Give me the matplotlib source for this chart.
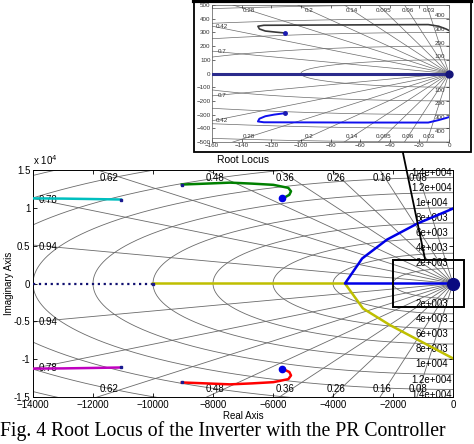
import numpy as np
import matplotlib.pyplot as plt
from matplotlib.patches import Rectangle
from matplotlib.lines import Line2D

plt.rcParams['font.family'] = ['Liberation Sans', 'DejaVu Sans']

# ---- main root locus branches ----
blue_x = [0, -3600, -3030, -2200, -1200, 0]
blue_y = [0, 0, 3300, 5800, 7900, 9900]
yellow_x = [-10000, -3600, -3000, -2100, -1000, 0]
yellow_y = [0, 0, -3300, -5500, -7800, -9900]
dotted_x = [-14000, -10000]
dotted_y = [0, 0]
cyan_x = [-14000, -13000, -12000, -11070]
cyan_y = [11250, 11220, 11160, 11100]
magenta_x = [-14000, -13000, -12000, -11070]
magenta_y = [-11250, -11220, -11160, -11100]
green_x = [-9040, -8430, -7430, -6700, -5990, -5490, -5400, -5455, -5600, -5710]
green_y = [13080, 13170, 13330, 13200, 13040, 12640, 12190, 11720, 11400, 11270]
red_x = [-9040, -8430, -7430, -6700, -5990, -5490, -5400, -5455, -5600, -5710]
red_y = [-13080, -13170, -13330, -13200, -13040, -12640, -12150, -11700, -11420, -11330]
pole_x = [-10000, -11070, -11070, -9040, -9040]
pole_y = [0, 11100, -11100, 13080, -13080]
zero_x = [-5710, -5710]
zero_y = [11270, -11330]

# sgrid of main plot
zeta_main = [0.08, 0.16, 0.26, 0.36, 0.48, 0.62, 0.78, 0.94]
wn_main = [2000, 4000, 6000, 8000, 10000, 12000, 14000, 16000, 18000, 20000, 22000]
wn_labels = ['2e+003', '4e+003', '6e+003', '8e+003', '1e+004', '1.2e+004', '1.4e+004']

# ---- zoomed view near the origin ----
upper_x = [-111, -117, -124, -128, -129, -125, -60, -14, -7, -2, 0]
upper_y = [296, 302, 310, 325, 345, 352, 355, 357, 345, 325, 314]
lower_x = [-111, -118, -124, -128, -129, -125, -60, -14, -7, -2, 0]
lower_y = [-290, -300, -312, -330, -350, -356, -358, -358, -340, -325, -318]
zeta_ins = [0.03, 0.06, 0.095, 0.14, 0.2, 0.28, 0.42, 0.7]
wn_ins = [100, 200, 300, 400, 500]

fig = plt.figure(figsize=(4.74, 4.44), dpi=100)
ax = fig.add_axes([33/474, 1-397/444, 420/474, 227/444])

gcol = '#6a6a6a'
t = np.linspace(np.pi/2, 3*np.pi/2, 400)
for w in wn_main:
    ax.plot(w*np.cos(t), w*np.sin(t), color=gcol, lw=0.6, zorder=1)
R = 60000
for z in zeta_main:
    s = np.sqrt(1 - z**2)
    ax.plot([0, -R*z], [0, R*s], color=gcol, lw=0.6, zorder=1)
    ax.plot([0, -R*z], [0, -R*s], color=gcol, lw=0.6, zorder=1)
    if z < 0.7:
        xl = -14500*z/s
        ax.text(xl, 13900, '%g' % z, fontsize=7, ha='center', va='center', zorder=2)
        ax.text(xl, -13950, '%g' % z, fontsize=7, ha='center', va='center', zorder=2)
    else:
        yl = 14000*s/z
        ax.text(-13500, yl - 200, '%g' % z, fontsize=7, ha='center', va='center', zorder=2)
        ax.text(-13500, -yl + 50, '%g' % z, fontsize=7, ha='center', va='center', zorder=2)
for w, lab in zip(wn_main, wn_labels):
    ax.text(-700, w + 650, lab, fontsize=7, ha='center', va='center', zorder=2)
    ax.text(-700, -w - 700, lab, fontsize=7, ha='center', va='center', zorder=2)

ax.plot(dotted_x, dotted_y, color='#101070', lw=1.6, ls=':', zorder=3)
ax.plot(yellow_x, yellow_y, color='#bfbf00', lw=1.8, zorder=3)
ax.plot(blue_x, blue_y, color='#0000e6', lw=1.8, zorder=4)
ax.plot(cyan_x, cyan_y, color='#00bfbf', lw=1.8, zorder=3)
ax.plot(magenta_x, magenta_y, color='#bf00bf', lw=1.8, zorder=3)
ax.plot(green_x, green_y, color='#008000', lw=1.8, zorder=3)
ax.plot(red_x, red_y, color='#ff0000', lw=1.8, zorder=3)
ax.plot(pole_x, pole_y, 's', color='#1a1a90', ms=2, zorder=5)
ax.plot(zero_x, zero_y, 'o', color='#0000e6', ms=4.5, zorder=5)
ax.plot([0], [0], 'o', color='#0a0a80', ms=8.5, zorder=6, clip_on=False)

ax.set_xlim(-14000, 0)
ax.set_ylim(-15000, 15000)
ax.set_xticks(np.arange(-14000, 1, 2000))
ax.set_yticks(np.arange(-15000, 15001, 5000))
ax.set_yticklabels(['-1.5', '-1', '-0.5', '0', '0.5', '1', '1.5'])
ax.tick_params(direction='in', length=3, width=0.6, labelsize=7, top=True, right=True, pad=2)
for sp in ax.spines.values():
    sp.set_linewidth(0.7)
ax.text(0.0, 1.012, r'x 10$^{4}$', transform=ax.transAxes, fontsize=7, ha='left', va='bottom')
fig.text(243/474, 1-160/444, 'Root Locus', fontsize=7.5, ha='center', va='center')
ax.set_xlabel('Real Axis', fontsize=7, labelpad=1)
ax.set_ylabel('Imaginary Axis', fontsize=7, labelpad=0)

# ---- inset ----
ins = fig.add_axes([212/474, 1-142/444, 237/474, 137/444])
tt = np.linspace(np.pi/2, 3*np.pi/2, 400)
for w in wn_ins:
    ins.plot(w*np.cos(tt), w*np.sin(tt), color=gcol, lw=0.5, zorder=1)
for z in zeta_ins:
    s = np.sqrt(1 - z**2)
    ins.plot([0, -3000*z], [0, 3000*s], color=gcol, lw=0.5, zorder=1)
    ins.plot([0, -3000*z], [0, -3000*s], color=gcol, lw=0.5, zorder=1)
    if z < 0.4:
        xl = -463*z/s
        ins.text(xl, 463, '%g' % z, fontsize=4.5, ha='center', va='center', color='#333333')
        ins.text(xl, -463, '%g' % z, fontsize=4.5, ha='center', va='center', color='#333333')
    else:
        yl = 160*s/z
        ins.text(-153, yl, '%g' % z, fontsize=4.5, ha='center', va='center', color='#333333')
        ins.text(-153, -yl, '%g' % z, fontsize=4.5, ha='center', va='center', color='#333333')
for w in wn_ins[:4]:
    ins.text(-6, w + 22, '%d' % w, fontsize=4.5, ha='center', va='center', color='#333333')
    ins.text(-6, -w - 22, '%d' % w, fontsize=4.5, ha='center', va='center', color='#333333')
ins.plot([-160, 0], [0, 0], color='#2b2b8c', lw=2.2, zorder=3)
ins.plot(upper_x, upper_y, color='#383838', lw=1.2, zorder=3)
ins.plot(lower_x, lower_y, color='#1010ee', lw=1.4, zorder=3)
ins.plot([-111, -111], [296, -290], 'o', color='#1a1ab0', ms=2.5, zorder=4)
ins.plot([0], [0], 'o', color='#15157a', ms=5, zorder=5, clip_on=False)
ins.set_xlim(-160, 0)
ins.set_ylim(-500, 500)
ins.set_xticks(np.arange(-160, 1, 20))
ins.set_yticks(np.arange(-500, 501, 100))
ins.tick_params(direction='in', length=2, width=0.4, labelsize=4.5, labelcolor='#333333',
                top=True, right=True, pad=1)
for sp in ins.spines.values():
    sp.set_linewidth(0.5)
    sp.set_color('#555555')

# frame around the zoomed view and the pointer line
fig.patches.append(Rectangle((194/474, 1-152/444), 277/474, 151/444, transform=fig.transFigure,
                             fill=False, ec='black', lw=1.3))
fig.lines.append(Line2D([194/474, 471/474], [1-1/444, 1-1/444], transform=fig.transFigure,
                        color='black', lw=3))
fig.patches.append(Rectangle((393/474, 1-307/444), 71/474, 47/444, transform=fig.transFigure,
                             fill=False, ec='black', lw=1.4, zorder=10))
fig.lines.append(Line2D([403/474, 425/474], [1-153/444, 1-259/444], transform=fig.transFigure,
                        color='black', lw=1.3))

fig.text(0.0, 1-421/444, 'Fig. 4 Root Locus of the Inverter with the PR Controller',
         fontsize=14.2, family=['Liberation Serif', 'DejaVu Serif'], ha='left', va='top')

fig.savefig('out.png', dpi=100)
